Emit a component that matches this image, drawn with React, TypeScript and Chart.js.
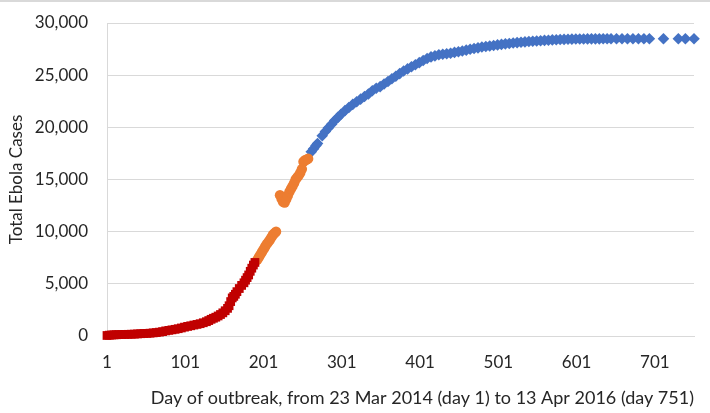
import { useEffect, useRef } from "react"
import { Chart, registerables } from "chart.js"

Chart.register(...registerables)

// day of outbreak / cumulative cases
const redDays = [
  1, 4, 7, 10, 13, 16, 20, 24, 28, 32, 36, 40, 44, 48, 52, 56, 60, 64, 68, 72,
  76, 80, 84, 88, 92, 96, 100, 104, 108, 112, 116, 120, 124, 128, 131, 134, 137,
  140, 143, 146, 149, 152, 155, 157, 159, 161, 163, 165, 167, 170, 173, 176, 178,
  180, 182, 184, 186, 188, 190,
]
const redCases = [
  50, 80, 100, 110, 120, 130, 140, 150, 160, 170, 180, 200, 220, 240, 250, 270,
  300, 330, 370, 420, 490, 540, 590, 640, 700, 770, 850, 920, 980, 1050, 1110,
  1180, 1270, 1370, 1480, 1600, 1700, 1800, 1920, 2060, 2220, 2420, 2650, 2900,
  3300, 3650, 3800, 4000, 4250, 4550, 4850, 5100, 5350, 5600, 5850, 6200, 6500,
  6800, 7050,
]

const orangeDays = [
  193, 195, 197, 199, 201, 203, 205, 207, 209, 211, 213, 215, 217, 222, 224, 226,
  228, 230, 232, 234, 236, 238, 240, 242, 244, 246, 248, 250, 252, 254, 256, 258,
]
const orangeCases = [
  7300, 7550, 7800, 8050, 8300, 8550, 8800, 9000, 9200, 9450, 9700, 9850, 10000,
  13500, 13150, 12850, 12800, 13100, 13450, 13800, 14100, 14350, 14650, 15000,
  15200, 15400, 15650, 16000, 16700, 16850, 16900, 17000,
]

const blueDays = [
  262, 265, 268, 270, 276, 280, 284, 288, 292, 296, 300, 305, 310, 315, 320, 325,
  330, 335, 340, 345, 350, 355, 360, 365, 370, 375, 380, 385, 390, 395, 400, 405,
  410, 415, 420, 425, 430, 435, 440, 445, 450, 455, 460, 465, 470, 475, 480, 485,
  490, 495, 500, 505, 510, 515, 520, 525, 530, 535, 540, 545, 550, 555, 560, 565,
  570, 575, 580, 585, 590, 595, 600, 605, 610, 615, 620, 625, 630, 635, 640, 645,
  652, 659, 666, 673, 680, 687, 694, 712, 731, 740, 751,
]
const blueCases = [
  17650, 17950, 18250, 18450, 19200, 19600, 19950, 20300, 20650, 20950, 21250,
  21600, 21900, 22200, 22450, 22700, 22950, 23200, 23500, 23750, 23900, 24150,
  24400, 24650, 24900, 25150, 25400, 25600, 25800, 26000, 26200, 26400, 26600,
  26750, 26850, 26950, 27000, 27050, 27100, 27180, 27250, 27320, 27400, 27480,
  27550, 27620, 27700, 27750, 27800, 27850, 27900, 27950, 28000, 28040, 28080,
  28120, 28150, 28190, 28220, 28250, 28280, 28300, 28330, 28350, 28380, 28400,
  28420, 28430, 28440, 28450, 28460, 28465, 28470, 28475, 28480, 28480, 28480,
  28485, 28490, 28490, 28490, 28490, 28490, 28490, 28490, 28490, 28490, 28490,
  28490, 28490, 28490,
]

const xTickValues = [1, 101, 201, 301, 401, 501, 601, 701]
const yMax = 30000
const yStep = 5000

const toPoints = (days: number[], cases: number[]) =>
  days.map((d, i) => ({ x: d, y: cases[i] }))

const FONT = "Lato, 'Open Sans', sans-serif"
const TEXT = "#262626"
const GRID = "#d9d9d9"

export default function App() {
  const canvasRef = useRef<HTMLCanvasElement>(null)

  useEffect(() => {
    if (!canvasRef.current) return
    const ctx = canvasRef.current.getContext("2d")
    if (!ctx) return

    const chart = new Chart(ctx, {
      type: "scatter",
      data: {
        datasets: [
          {
            data: toPoints(redDays, redCases),
            backgroundColor: "#c00000",
            borderWidth: 0,
            pointStyle: "rect",
            pointRadius: 6.2,
            clip: false,
          },
          {
            data: toPoints(orangeDays, orangeCases),
            backgroundColor: "#ed7d31",
            borderWidth: 0,
            pointStyle: "circle",
            pointRadius: 5.2,
            clip: false,
          },
          {
            data: toPoints(blueDays, blueCases),
            backgroundColor: "#4472c4",
            borderWidth: 0,
            pointStyle: "rectRot",
            pointRadius: 5.8,
            clip: false,
          },
        ],
      },
      options: {
        animation: false,
        responsive: true,
        maintainAspectRatio: false,
        layout: { padding: { left: 0, right: 16, top: 23, bottom: 0 } },
        scales: {
          x: {
            type: "linear",
            min: 1,
            max: 751,
            afterBuildTicks: (axis) => {
              axis.ticks = xTickValues.map((v) => ({ value: v }))
            },
            afterFit: (scale) => {
              scale.height = 77
              scale.paddingLeft = 0
              scale.paddingRight = 0
            },
            grid: { display: false, drawTicks: false },
            border: { display: true, color: GRID, width: 1 },
            ticks: {
              font: { family: FONT, size: 17 },
              color: TEXT,
              padding: 16,
              maxRotation: 0,
              autoSkip: false,
              callback: (v) => String(v),
            },
            title: {
              display: true,
              text: "Day of outbreak, from 23 Mar 2014 (day 1) to 13 Apr 2016 (day 751)",
              align: "end",
              color: TEXT,
              font: { family: FONT, size: 18 },
              padding: { top: 0, bottom: 4 },
            },
          },
          y: {
            min: 0,
            max: yMax,
            afterFit: (scale) => {
              scale.width = 107
              scale.paddingTop = 0
              scale.paddingBottom = 0
            },
            grid: { color: GRID, lineWidth: 1, drawTicks: false },
            border: { display: true, color: GRID, width: 1 },
            ticks: {
              stepSize: yStep,
              font: { family: FONT, size: 17 },
              color: TEXT,
              padding: 19,
            },
            title: {
              display: true,
              text: "Total Ebola Cases",
              color: TEXT,
              font: { family: FONT, size: 17 },
              padding: { top: 6, bottom: 0 },
            },
          },
        },
        plugins: {
          legend: { display: false },
          tooltip: { enabled: false },
        },
      },
    })

    return () => {
      chart.destroy()
    }
  }, [])

  return (
    <div
      style={{
        position: "fixed",
        left: 0,
        top: 0,
        width: 710,
        height: 413,
        background: "#fff",
      }}
    >
      <canvas ref={canvasRef} />
      <div
        style={{
          position: "absolute",
          left: 0,
          top: 0,
          width: 710,
          height: 2,
          background: GRID,
        }}
      />
    </div>
  )
}
